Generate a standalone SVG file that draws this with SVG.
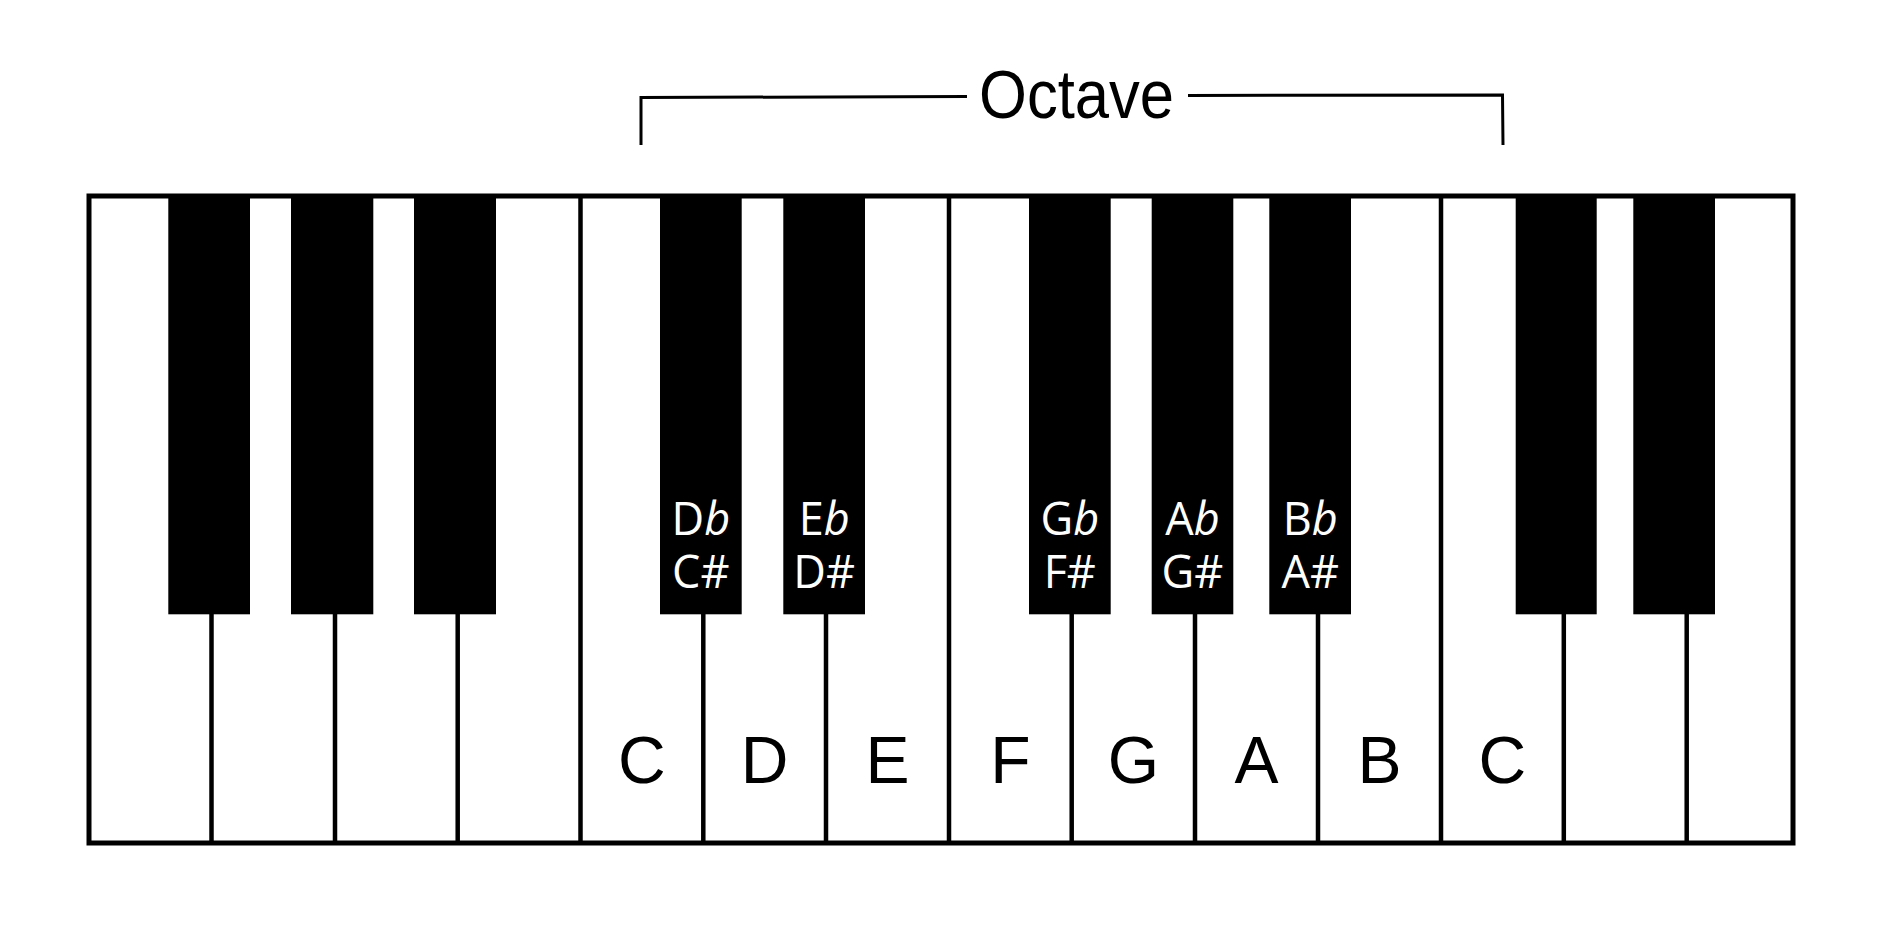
<svg xmlns="http://www.w3.org/2000/svg" width="1884" height="946" viewBox="0 0 1884 946">
<style>
.frame{fill:#fff;stroke:#000;stroke-width:5}
.div{stroke:#000;stroke-width:4.5}
.black{fill:#000}
.wl{font-family:"Liberation Sans",Arial,sans-serif;font-size:66px;fill:#000;text-anchor:middle}
.bl{font-family:"Open Sans","Liberation Sans",sans-serif;font-size:45px;fill:#fff;text-anchor:middle}
.bl .i{font-style:italic}
.br{fill:none;stroke:#000;stroke-width:3}
.oct{font-family:"Liberation Sans",Arial,sans-serif;font-size:68px;fill:#000}
</style>
<rect width="1884" height="946" fill="#fff"/>
<g id="bracket">
<path class="br" d="M641,145 L641,97.5 L967,96.5"/>
<path class="br" d="M1188,95.5 L1502.5,95 L1503,145"/>
<text class="oct" x="979" y="118" textLength="195" lengthAdjust="spacingAndGlyphs">Octave</text>
</g>
<g id="white-keys">
<rect class="frame" x="89" y="196" width="1704" height="647"/>
</g>
<g id="dividers">
<line class="div" x1="211.5" y1="600" x2="211.5" y2="843"/>
<line class="div" x1="335" y1="600" x2="335" y2="843"/>
<line class="div" x1="457.7" y1="600" x2="457.7" y2="843"/>
<line class="div" x1="580.5" y1="196" x2="580.5" y2="843"/>
<line class="div" x1="703.3" y1="600" x2="703.3" y2="843"/>
<line class="div" x1="826" y1="600" x2="826" y2="843"/>
<line class="div" x1="949" y1="196" x2="949" y2="843"/>
<line class="div" x1="1071.7" y1="600" x2="1071.7" y2="843"/>
<line class="div" x1="1195" y1="600" x2="1195" y2="843"/>
<line class="div" x1="1318" y1="600" x2="1318" y2="843"/>
<line class="div" x1="1441" y1="196" x2="1441" y2="843"/>
<line class="div" x1="1563.8" y1="600" x2="1563.8" y2="843"/>
<line class="div" x1="1686.7" y1="600" x2="1686.7" y2="843"/>
</g>
<g id="black-keys">
<rect class="black" x="168.3" y="196" width="81.7" height="418.3"/>
<rect class="black" x="291" y="196" width="82.3" height="418.3"/>
<rect class="black" x="414" y="196" width="82" height="418.3"/>
<g id="key-db"><rect class="black" x="660" y="196" width="81.7" height="418.3"/>
<text class="bl"><tspan x="700.8" y="535">D<tspan class="i">b</tspan></tspan><tspan x="700.8" y="588">C#</tspan></text></g>
<g id="key-eb"><rect class="black" x="783.3" y="196" width="81.7" height="418.3"/>
<text class="bl"><tspan x="824.2" y="535">E<tspan class="i">b</tspan></tspan><tspan x="824.2" y="588">D#</tspan></text></g>
<g id="key-gb"><rect class="black" x="1029" y="196" width="81.7" height="418.3"/>
<text class="bl"><tspan x="1069.8" y="535">G<tspan class="i">b</tspan></tspan><tspan x="1069.8" y="588">F#</tspan></text></g>
<g id="key-ab"><rect class="black" x="1151.7" y="196" width="81.6" height="418.3"/>
<text class="bl"><tspan x="1192.5" y="535">A<tspan class="i">b</tspan></tspan><tspan x="1192.5" y="588">G#</tspan></text></g>
<g id="key-bb"><rect class="black" x="1269.3" y="196" width="81.7" height="418.3"/>
<text class="bl"><tspan x="1310.2" y="535">B<tspan class="i">b</tspan></tspan><tspan x="1310.2" y="588">A#</tspan></text></g>
<rect class="black" x="1515.7" y="196" width="81" height="418.3"/>
<rect class="black" x="1633.3" y="196" width="81.7" height="418.3"/>
</g>
<g id="white-labels">
<text class="wl" x="641.9" y="783">C</text>
<text class="wl" x="764.6" y="783">D</text>
<text class="wl" x="887.5" y="783">E</text>
<text class="wl" x="1010.3" y="783">F</text>
<text class="wl" x="1133.3" y="783">G</text>
<text class="wl" x="1256.5" y="783">A</text>
<text class="wl" x="1379.5" y="783">B</text>
<text class="wl" x="1502.4" y="783">C</text>
</g>
</svg>
